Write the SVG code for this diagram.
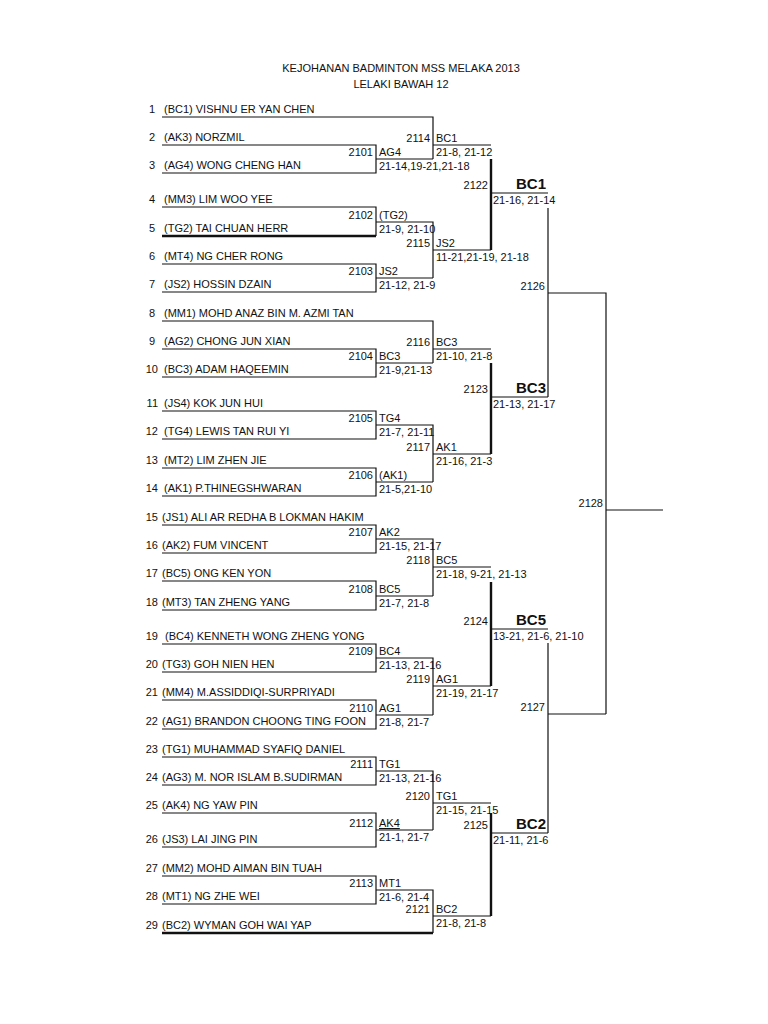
<svg xmlns="http://www.w3.org/2000/svg" width="768" height="1024" viewBox="0 0 768 1024">
<style>
text{font-family:"Liberation Sans",Arial,sans-serif;font-size:11px;fill:#111}
.n{text-anchor:end}
.b{font-weight:bold;font-size:15px;text-anchor:end}
.t{text-anchor:middle}
line,path{stroke:#111;stroke-width:1.2;fill:none}
.k{stroke-width:2.4}
</style>
<rect width="768" height="1024" fill="#fff"/>
<text class="t" x="401" y="72">KEJOHANAN BADMINTON MSS MELAKA 2013</text>
<text class="t" x="401" y="88">LELAKI BAWAH 12</text>
<g id="players">
<text class="n" x="155" y="113">1</text><text x="164" y="113">(BC1) VISHNU ER YAN CHEN</text>
<text class="n" x="155" y="141">2</text><text x="164" y="141">(AK3) NORZMIL</text>
<text class="n" x="155" y="169">3</text><text x="164" y="169">(AG4) WONG CHENG HAN</text>
<text class="n" x="155" y="203">4</text><text x="164" y="203">(MM3) LIM WOO YEE</text>
<text class="n" x="155" y="232">5</text><text x="164" y="232">(TG2) TAI CHUAN HERR</text>
<text class="n" x="155" y="260">6</text><text x="164" y="260">(MT4) NG CHER RONG</text>
<text class="n" x="155" y="288">7</text><text x="164" y="288">(JS2) HOSSIN DZAIN</text>
<text class="n" x="155" y="317">8</text><text x="164" y="317">(MM1) MOHD ANAZ BIN M. AZMI TAN</text>
<text class="n" x="155" y="345">9</text><text x="164" y="345">(AG2) CHONG JUN XIAN</text>
<text class="n" x="158" y="373">10</text><text x="164" y="373">(BC3) ADAM HAQEEMIN</text>
<text class="n" x="158" y="407">11</text><text x="164" y="407">(JS4) KOK JUN HUI</text>
<text class="n" x="158" y="435">12</text><text x="164" y="435">(TG4) LEWIS TAN RUI YI</text>
<text class="n" x="158" y="464">13</text><text x="164" y="464">(MT2) LIM ZHEN JIE</text>
<text class="n" x="158" y="492">14</text><text x="164" y="492">(AK1) P.THINEGSHWARAN</text>
<text class="n" x="158" y="521">15</text><text x="162" y="521">(JS1) ALI AR REDHA B LOKMAN HAKIM</text>
<text class="n" x="158" y="549">16</text><text x="162" y="549">(AK2) FUM VINCENT</text>
<text class="n" x="158" y="577">17</text><text x="162" y="577">(BC5) ONG KEN YON</text>
<text class="n" x="158" y="606">18</text><text x="162" y="606">(MT3) TAN ZHENG YANG</text>
<text class="n" x="158" y="640">19</text><text x="165" y="640">(BC4) KENNETH WONG ZHENG YONG</text>
<text class="n" x="158" y="668">20</text><text x="162" y="668">(TG3) GOH NIEN HEN</text>
<text class="n" x="158" y="696">21</text><text x="162" y="696">(MM4) M.ASSIDDIQI-SURPRIYADI</text>
<text class="n" x="158" y="725">22</text><text x="162" y="725">(AG1) BRANDON CHOONG TING FOON</text>
<text class="n" x="158" y="753">23</text><text x="162" y="753">(TG1) MUHAMMAD SYAFIQ DANIEL</text>
<text class="n" x="158" y="781">24</text><text x="162" y="781">(AG3) M. NOR ISLAM B.SUDIRMAN</text>
<text class="n" x="158" y="809">25</text><text x="162" y="809">(AK4) NG YAW PIN</text>
<text class="n" x="158" y="843">26</text><text x="162" y="843">(JS3) LAI JING PIN</text>
<text class="n" x="158" y="872">27</text><text x="162" y="872">(MM2) MOHD AIMAN BIN TUAH</text>
<text class="n" x="158" y="900">28</text><text x="162" y="900">(MT1) NG ZHE WEI</text>
<text class="n" x="158" y="929">29</text><text x="162" y="929">(BC2) WYMAN GOH WAI YAP</text>
</g>
<g id="connectors">
<path d="M162 117H433V159M162 145H376V173H162M376 159H433"/>
<path d="M162 207H376V236M376 222H433V278M162 264H376V292H162M376 278H433"/>
<path class="k" d="M162 236H376"/>
<path d="M162 321H433V363M162 349H376V377H162M376 363H433"/>
<path d="M162 411H376V439H162M376 425H433V482M162 468H376V496H162M376 482H433"/>
<path d="M162 525H376V553H162M376 539H433V596M162 581H376V610H162M376 596H433"/>
<path d="M162 644H376V672H162M376 658H433V715M162 700H376V729H162M376 715H433"/>
<path d="M162 757H376V785H162M376 771H433V830M162 813H376V847H162M376 830H433"/>
<path d="M162 876H376V904H162M376 890H433V933"/>
<path class="k" d="M162 933H433"/>
<path d="M433 145H491M433 250H491M433 349H491M433 454H491M433 567H491M433 686H491M433 803H491M433 916H491"/>
<path class="k" d="M491 159V250M491 363V454M491 582V686M491 813V916"/>
<path d="M491 193H548M491 397H548M491 629H548M491 833H548"/>
<path d="M548 208V397M548 293H606V714M548 643V833M548 714H606M606 510H663"/>
</g>
<g id="labels">
<text class="n" x="430" y="142">2114</text><text x="436" y="142">BC1</text><text x="436" y="156">21-8, 21-12</text>
<text class="n" x="373" y="156">2101</text><text x="379" y="156">AG4</text><text x="379" y="170">21-14,19-21,21-18</text>
<text class="n" x="373" y="219">2102</text><text x="379" y="219">(TG2)</text><text x="379" y="233">21-9, 21-10</text>
<text class="n" x="430" y="247">2115</text><text x="436" y="247">JS2</text><text x="436" y="261">11-21,21-19, 21-18</text>
<text class="n" x="373" y="275">2103</text><text x="379" y="275">JS2</text><text x="379" y="289">21-12, 21-9</text>
<text class="n" x="430" y="346">2116</text><text x="436" y="346">BC3</text><text x="436" y="360">21-10, 21-8</text>
<text class="n" x="373" y="360">2104</text><text x="379" y="360">BC3</text><text x="379" y="374">21-9,21-13</text>
<text class="n" x="373" y="422">2105</text><text x="379" y="422">TG4</text><text x="379" y="436">21-7, 21-11</text>
<text class="n" x="430" y="451">2117</text><text x="436" y="451">AK1</text><text x="436" y="465">21-16, 21-3</text>
<text class="n" x="373" y="479">2106</text><text x="379" y="479">(AK1)</text><text x="379" y="493">21-5,21-10</text>
<text class="n" x="373" y="536">2107</text><text x="379" y="536">AK2</text><text x="379" y="550">21-15, 21-17</text>
<text class="n" x="430" y="564">2118</text><text x="436" y="564">BC5</text><text x="436" y="578">21-18, 9-21, 21-13</text>
<text class="n" x="373" y="593">2108</text><text x="379" y="593">BC5</text><text x="379" y="607">21-7, 21-8</text>
<text class="n" x="373" y="655">2109</text><text x="379" y="655">BC4</text><text x="379" y="669">21-13, 21-16</text>
<text class="n" x="430" y="683">2119</text><text x="436" y="683">AG1</text><text x="436" y="697">21-19, 21-17</text>
<text class="n" x="373" y="712">2110</text><text x="379" y="712">AG1</text><text x="379" y="726">21-8, 21-7</text>
<text class="n" x="373" y="768">2111</text><text x="379" y="768">TG1</text><text x="379" y="782">21-13, 21-16</text>
<text class="n" x="430" y="800">2120</text><text x="436" y="800">TG1</text><text x="436" y="814">21-15, 21-15</text>
<text class="n" x="373" y="827">2112</text><text x="379" y="827" text-decoration="underline">AK4</text><text x="379" y="841">21-1, 21-7</text>
<text class="n" x="373" y="887">2113</text><text x="379" y="887">MT1</text><text x="379" y="901">21-6, 21-4</text>
<text class="n" x="430" y="913">2121</text><text x="436" y="913">BC2</text><text x="436" y="927">21-8, 21-8</text>
<text class="n" x="488" y="189">2122</text><text class="b" x="546" y="189">BC1</text><text x="493" y="204">21-16, 21-14</text>
<text class="n" x="488" y="393">2123</text><text class="b" x="546" y="393">BC3</text><text x="493" y="408">21-13, 21-17</text>
<text class="n" x="488" y="625">2124</text><text class="b" x="546" y="625">BC5</text><text x="493" y="640">13-21, 21-6, 21-10</text>
<text class="n" x="488" y="829">2125</text><text class="b" x="546" y="829">BC2</text><text x="493" y="844">21-11, 21-6</text>
<text class="n" x="545" y="290">2126</text>
<text class="n" x="545" y="711">2127</text>
<text class="n" x="603" y="507">2128</text>
</g>
</svg>
